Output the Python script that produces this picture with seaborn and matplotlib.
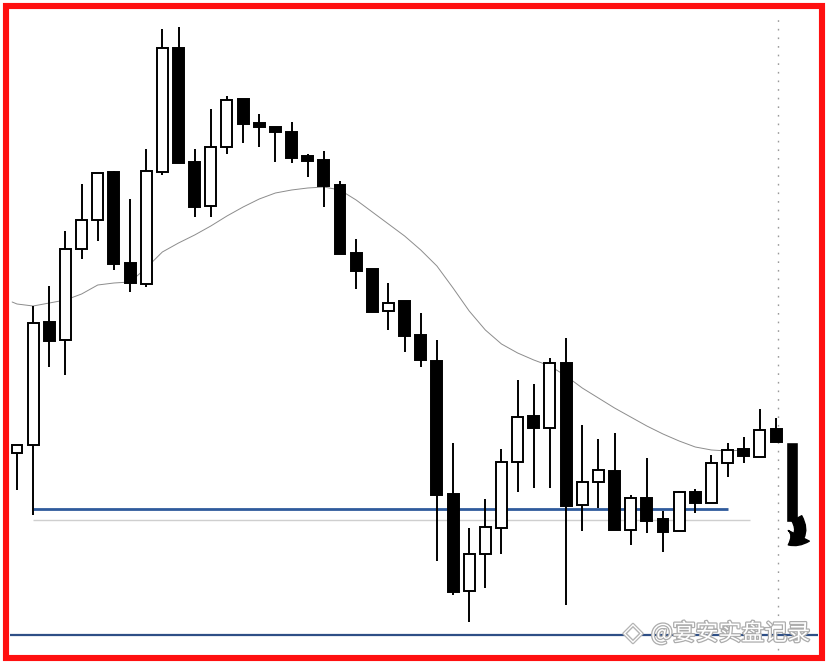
import matplotlib
matplotlib.use("Agg")
import matplotlib.pyplot as plt
import matplotlib.patheffects as pe
from matplotlib.patches import Rectangle
import numpy as np
import pandas as pd
import seaborn as sns

# candle data (arbitrary price units)
opens = [20.9, 21.7, 34.0, 32.2, 41.3, 44.2, 49.0, 39.9, 37.8, 49.0,
         61.4, 50.0, 45.6, 51.5, 56.3, 53.9, 53.5, 53.0, 50.6, 50.2,
         47.7, 40.9, 39.3, 35.1, 36.1, 32.7, 30.1, 16.8, 7.1, 10.8,
         13.4, 20.0, 24.6, 23.4, 29.9, 15.7, 18.0, 19.1, 13.2, 16.4,
         14.3, 13.1, 17.0, 15.9, 19.9, 21.3, 20.5, 23.3]
highs = [21.7, 35.6, 37.6, 43.1, 47.8, 48.9, 49.1, 46.3, 51.3, 63.3,
         63.5, 51.3, 55.3, 56.6, 56.3, 54.8, 53.5, 54.0, 50.8, 51.1,
         48.1, 42.3, 39.3, 37.9, 36.1, 34.9, 32.2, 21.9, 13.4, 16.3,
         21.3, 28.2, 27.8, 30.4, 32.4, 23.7, 22.3, 22.9, 16.7, 20.4,
         15.1, 17.1, 17.3, 20.7, 21.9, 22.5, 25.3, 24.4]
lows = [17.2, 14.7, 29.5, 28.7, 40.3, 42.1, 39.2, 37.0, 37.5, 48.7,
        49.9, 44.5, 44.5, 50.8, 51.9, 51.5, 50.0, 49.9, 48.5, 45.5,
        40.8, 37.3, 35.0, 33.2, 31.0, 29.5, 10.1, 6.7, 4.0, 7.4,
        10.8, 17.0, 17.4, 17.4, 5.7, 13.1, 15.4, 13.2, 11.7, 12.9,
        11.0, 13.1, 14.9, 15.9, 18.5, 19.9, 20.5, 22.0]
closes = [21.7, 33.9, 32.1, 41.3, 44.2, 48.9, 39.8, 37.9, 49.1, 61.4,
          49.9, 45.5, 51.5, 56.2, 53.8, 53.5, 53.0, 50.4, 50.1, 47.6,
          40.8, 39.1, 35.0, 35.9, 32.6, 30.2, 16.7, 7.0, 10.8, 13.5,
          20.0, 24.5, 23.4, 29.9, 15.6, 18.0, 19.2, 13.2, 16.4, 14.1,
          13.0, 17.0, 15.9, 19.9, 21.2, 20.6, 23.2, 22.0]

# thin moving average line
ma_x = [-0.3] + list(range(0, 46))
ma_y = [36.0, 35.8, 35.6, 35.9, 36.2, 36.8, 37.7, 37.9, 38.0, 39.4, 41.0,
        41.9, 42.7, 43.6, 44.6, 45.5, 46.3, 46.9, 47.2, 47.4, 47.5,
        47.2, 46.2, 45.0, 43.8, 42.6, 41.2, 39.6, 37.4, 35.1, 33.2,
        31.8, 30.9, 30.2, 29.6, 28.6, 27.4, 26.4, 25.4, 24.5, 23.6,
        22.8, 22.1, 21.5, 21.2, 21.1, 21.2]

support_level = 15.3
support_span = (1, 44.0)
lower_level = 2.7
close_level = 14.2
marker_x = 47.1
arrow_top, arrow_bottom = 22.0, 14.0
watermark = "@宴安实盘记录"

df = pd.DataFrame({"open": opens, "high": highs, "low": lows, "close": closes})
df["idx"] = np.arange(len(df))
df["up"] = df["close"] >= df["open"]

sns.set_style("white")
plt.rcParams["font.family"] = ["Noto Sans CJK SC", "DejaVu Sans"]

fig = plt.figure(figsize=(8.27, 6.62), dpi=100)
ax = fig.add_axes([0, 0, 1, 1])
step = 16.15
ax.set_xlim(-17 / step, (827 - 17) / step)
ax.set_ylim(0, 66.2)
ax.axis("off")

# reference lines
ax.hlines(close_level, 1, 45.4, color="#cfcfcf", lw=1.0, zorder=1)
ax.hlines(support_level, *support_span, color="#2f5b9c", lw=2.0, zorder=2)
ax.hlines(lower_level, -0.45, 49.6, color="#2e4f86", lw=1.6, zorder=2)
ax.vlines(marker_x, 1.2, 64.7, color="#9a9a9a", lw=1.0,
          linestyles=(0, (1.2, 5)), zorder=1)

sns.lineplot(x=ma_x, y=ma_y, ax=ax, color="#8c8c8c", lw=0.7, zorder=2)

# candles
ax.vlines(df["idx"], df["low"], df["high"], color="black", lw=1.4, zorder=3)
bottoms = df[["open", "close"]].min(axis=1)
heights = (df["close"] - df["open"]).abs().clip(lower=0.4)
faces = np.where(df["up"], "white", "black")
ax.bar(df["idx"], heights, bottom=bottoms, width=0.68, color=faces,
       edgecolor="black", lw=1.4, zorder=4)

# big hand drawn arrow at the right
ax.bar([48], [arrow_top - arrow_bottom], bottom=arrow_bottom, width=0.75,
       color="black", zorder=4)
ax.annotate("", xy=(47.6, 11.6), xytext=(48.2, 14.6),
            arrowprops=dict(arrowstyle="simple,head_width=1.7,head_length=1.0,tail_width=0.8",
                            color="black", connectionstyle="arc3,rad=-0.6"),
            zorder=4)

# watermark
fig.text(633 / 827, 1 - 633 / 662, "◈", fontsize=18, color="white",
         ha="center", va="center", family=["DejaVu Sans"],
         path_effects=[pe.withStroke(linewidth=1.8, foreground="#b4b4b4")])
fig.text(651 / 827, 1 - 633 / 662, watermark, fontsize=16.5, color="white",
         ha="left", va="center",
         path_effects=[pe.withStroke(linewidth=1.8, foreground="#acacac")])

# red frame
fig.patches.append(Rectangle((5.5 / 827, 4 / 662), (822 - 5.5) / 827,
                             (656.5 - 4) / 662, transform=fig.transFigure,
                             fill=False, edgecolor="#ff1010", lw=4.4, zorder=10))

fig.savefig("out.png", dpi=100)
